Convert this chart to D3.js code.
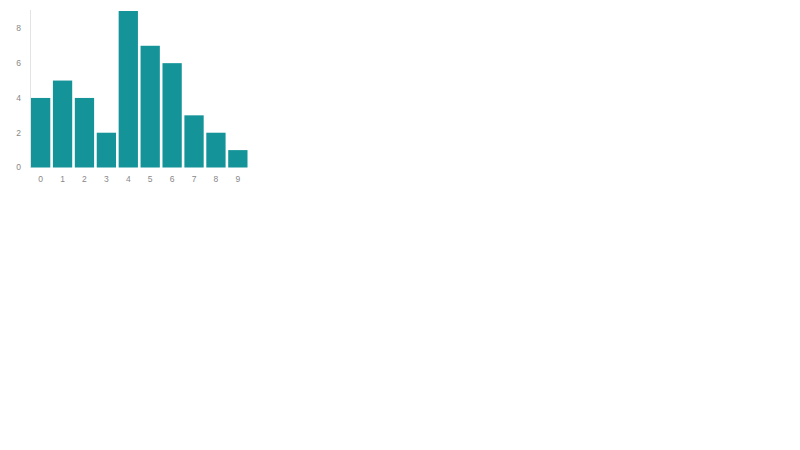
<!DOCTYPE html>
<html><head><meta charset="utf-8">
<script src="https://cdn.jsdelivr.net/npm/d3@7"></script>
<style>body{margin:0;background:#fff;} text{font-family:"Liberation Sans",Arial,sans-serif;}</style>
</head><body>
<svg id="c" width="800" height="450"></svg>
<script>
const categories = ["0","1","2","3","4","5","6","7","8","9"];
const values = [4,5,4,2,9,7,6,3,2,1];
const yTicks = [0,2,4,6,8];

const svg = d3.select("#c");
const x = d3.scaleBand().domain(categories).range([31,247.5]).paddingInner(0.12).paddingOuter(0);
const y = d3.scaleLinear().domain([0,9]).range([167.5,11]);

svg.selectAll("rect").data(values).join("rect")
  .attr("x",(d,i)=>x(categories[i]))
  .attr("width",x.bandwidth())
  .attr("y",d=>y(d))
  .attr("height",d=>y(0)-y(d))
  .attr("fill","#149499");

svg.append("line").attr("x1",30.5).attr("x2",30.5).attr("y1",10).attr("y2",168)
  .attr("stroke","#e3e3e3").attr("stroke-width",1);

svg.selectAll(".yl").data(yTicks).join("text")
  .attr("x",21).attr("y",d=>y(d)).attr("dy","0.35em")
  .attr("text-anchor","end").attr("font-size",8.5).attr("fill","#888")
  .text(d=>d);

svg.selectAll(".xl").data(categories).join("text")
  .attr("x",d=>x(d)+x.bandwidth()/2).attr("y",179).attr("dy","0.35em")
  .attr("text-anchor","middle").attr("font-size",8.5).attr("fill","#888")
  .text(d=>d);
</script>
</body></html>
